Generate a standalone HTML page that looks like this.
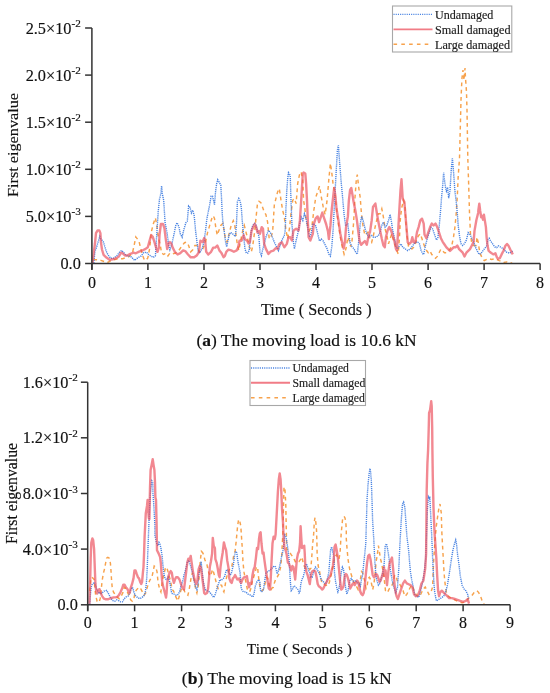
<!DOCTYPE html><html><head><meta charset="utf-8"><title>First eigenvalue</title><style>html,body{margin:0;padding:0;background:#fff;}svg{display:block;}</style></head><body>
<svg width="550" height="693" viewBox="0 0 550 693">
<rect width="550" height="693" fill="#fff"/>
<polyline fill="none" stroke="#f7a24c" stroke-width="1.45" stroke-dasharray="3.8 3.4" points="93.3,259.8 96.5,259.8 100.9,260.4 104.2,261.5 107.5,262.5 110.7,260.9 114.0,259.8 118.4,258.7 122.7,258.7 126.0,257.6 129.3,256.5 132.5,252.7 134.2,245.1 135.8,236.9 137.5,239.1 139.1,241.8 140.7,248.4 142.4,254.9 144.5,260.4 146.7,259.3 147.8,258.0 149.8,247.6 151.2,232.4 153.3,224.0 155.4,217.8 156.8,225.4 158.2,236.5 160.2,244.8 161.6,253.1 163.7,254.5 165.8,253.1 167.9,255.9 169.9,253.1 172.7,253.8 175.5,253.1 178.9,250.4 181.7,246.2 184.5,242.7 186.6,242.1 188.6,245.5 190.7,251.8 192.8,249.7 194.9,245.5 197.0,245.5 199.0,251.8 201.8,250.4 202.8,249.0 205.5,242.1 207.6,232.4 209.7,225.4 211.8,218.5 213.2,215.7 214.5,218.5 215.9,228.2 217.3,235.1 218.7,231.0 220.8,225.4 222.9,223.3 224.2,231.0 225.6,240.7 227.0,242.1 229.1,233.7 231.2,225.4 233.3,220.6 234.6,224.0 236.0,235.1 237.4,244.8 238.8,250.4 240.9,239.3 243.0,229.6 244.3,225.4 246.4,233.7 247.8,239.3 249.2,246.2 251.3,251.8 252.7,246.2 254.7,231.0 256.1,217.1 257.5,203.3 258.9,201.2 260.9,202.8 262.5,207.0 264.2,212.0 265.9,214.5 267.6,222.1 269.2,238.8 270.9,237.2 272.6,232.1 274.3,205.3 275.9,198.6 277.6,191.9 279.3,188.5 281.0,200.3 282.7,210.3 284.3,217.0 286.0,230.4 287.7,238.8 289.4,228.8 291.0,213.7 292.7,200.3 294.4,198.6 296.1,203.6 297.7,183.5 299.4,175.1 301.1,171.8 302.8,180.2 303.6,200.3 304.9,208.7 306.1,220.4 307.8,225.4 309.5,230.4 312.0,225.4 313.8,210.7 315.7,197.5 317.6,191.8 319.5,186.1 321.4,197.5 323.2,206.9 325.1,214.5 327.0,201.2 328.9,178.5 330.4,163.4 331.8,172.9 333.1,184.2 334.6,191.8 336.1,205.0 337.4,216.4 338.4,224.0 340.3,237.2 342.2,246.7 344.1,254.2 346.0,248.6 347.9,237.2 349.4,241.0 350.7,246.7 352.0,241.0 353.5,224.0 355.0,197.5 356.4,178.5 357.3,174.7 358.8,188.0 360.2,197.5 361.5,214.5 363.0,225.9 364.9,235.3 366.8,233.4 368.7,231.5 370.0,238.8 371.7,242.2 373.4,235.5 375.1,227.1 376.7,220.4 378.4,213.7 380.1,213.7 381.8,208.7 383.4,217.0 385.1,228.8 386.8,235.5 388.5,243.9 390.1,238.8 391.8,233.8 393.5,240.5 395.2,245.5 396.8,250.6 398.2,253.9 399.4,238.8 400.5,217.0 401.9,207.0 403.5,200.3 404.9,205.3 406.1,225.4 407.2,237.2 408.6,247.2 410.3,247.2 411.9,248.9 413.6,247.2 415.3,243.9 417.0,238.8 418.6,235.5 420.3,233.8 422.0,238.8 423.7,243.9 425.5,249.1 428.2,252.7 430.0,250.9 431.8,254.5 433.6,256.4 435.5,258.2 437.3,256.4 439.1,252.7 440.9,249.1 442.7,250.9 444.5,252.7 446.4,252.7 448.2,250.9 450.0,249.1 451.8,245.5 453.6,236.4 454.9,227.3 456.0,216.4 457.3,196.4 458.2,176.4 459.5,158.0 460.5,120.0 461.0,100.0 461.5,88.0 462.0,78.0 463.0,70.0 464.0,80.0 465.0,68.0 465.5,78.0 466.0,85.0 466.5,92.0 467.0,110.0 467.5,140.0 467.8,158.2 468.7,185.5 469.5,212.7 470.5,234.5 471.8,243.6 473.6,245.5 476.4,245.5 476.8,237.1 478.1,242.0 479.3,249.5 480.5,254.4 482.4,258.2 484.3,260.6 486.7,259.4 489.2,258.8 491.7,259.4 494.2,258.8 496.7,259.4 499.2,260.6 501.6,261.3 504.1,262.5 506.6,261.9 509.1,262.5 512.2,263.1"/>
<polyline fill="none" stroke="#4a84e2" stroke-width="1.4" stroke-dasharray="1.2 0.9" points="93.8,263.1 94.9,251.6 96.5,247.3 98.2,241.8 99.8,236.4 100.9,239.1 102.0,240.2 103.6,242.4 104.7,246.2 106.4,251.6 108.0,254.9 110.7,258.2 113.5,258.2 116.7,256.0 119.5,252.2 121.6,250.5 123.8,252.7 126.0,255.5 128.7,256.0 131.5,257.1 134.7,260.4 138.0,257.6 141.3,256.0 143.5,252.7 146.7,252.2 147.8,253.8 150.5,255.9 153.3,257.3 155.4,255.9 156.8,233.7 158.2,211.6 159.5,199.1 160.9,193.6 161.6,185.9 162.3,193.6 163.7,200.5 164.4,211.6 165.1,222.7 167.2,233.7 168.6,244.8 169.9,249.7 172.0,243.4 174.1,233.7 175.8,225.4 177.1,222.7 178.9,226.8 180.3,233.7 182.1,237.2 183.8,229.6 185.9,222.7 187.3,221.3 188.6,206.0 190.0,207.4 191.4,213.0 192.8,210.2 194.2,215.7 195.6,231.0 197.0,242.1 198.3,251.8 199.7,253.1 201.8,249.0 202.1,249.0 204.2,240.7 205.5,231.0 206.9,218.5 208.3,211.6 209.7,204.6 211.1,196.3 212.5,196.3 213.9,201.9 214.5,204.6 215.5,192.2 216.6,183.9 217.7,179.7 219.4,182.5 220.8,185.2 221.5,197.7 222.2,213.0 222.9,222.7 224.2,231.0 225.6,242.1 226.7,246.9 227.7,242.1 229.1,235.1 230.5,232.4 232.6,233.7 233.9,235.1 235.3,236.5 236.4,225.4 237.4,201.9 238.8,198.4 240.2,201.2 241.3,207.4 242.3,221.3 243.6,235.1 245.0,249.0 246.4,253.1 247.8,253.1 249.2,250.4 249.9,243.4 251.3,231.0 252.7,225.4 254.7,223.3 256.1,225.4 257.5,231.0 258.9,236.5 260.0,252.2 261.4,255.6 262.5,250.6 264.2,243.9 265.9,237.2 268.4,230.4 270.1,232.1 271.8,235.5 274.3,242.2 276.8,247.2 278.5,250.6 280.1,245.5 281.8,240.5 284.3,235.5 285.2,230.4 286.0,207.0 286.8,190.2 287.7,178.5 288.5,172.6 290.2,175.1 291.0,200.3 291.9,223.7 293.2,240.5 294.4,248.9 296.1,240.5 297.7,233.8 299.4,225.4 301.1,217.0 302.8,220.4 304.4,213.7 306.1,218.7 307.8,228.8 309.5,237.2 311.1,233.8 312.8,223.7 313.8,224.0 315.7,225.9 317.6,233.4 319.5,241.0 321.4,239.1 323.2,241.0 325.1,244.8 327.0,248.6 328.9,254.2 330.4,256.1 331.8,246.7 333.1,229.6 334.6,201.2 336.1,172.9 337.4,150.1 338.4,145.4 339.7,163.4 341.2,182.3 342.6,197.5 344.1,214.5 345.6,225.9 346.9,224.0 347.9,224.0 348.8,233.4 350.1,242.9 352.0,246.7 353.9,248.6 355.8,252.4 357.3,254.2 358.8,241.0 360.2,224.0 361.7,216.4 363.6,222.1 365.3,229.6 366.8,233.4 368.7,237.2 370.0,235.5 371.7,235.5 373.4,237.2 375.9,237.2 378.4,235.5 380.1,232.1 381.8,225.4 383.4,222.1 385.1,227.1 386.8,225.4 388.5,220.4 390.1,214.5 391.5,222.1 392.7,230.4 394.3,237.2 396.0,247.2 397.7,248.9 399.4,245.5 401.0,243.9 402.7,247.2 405.2,248.9 407.7,250.6 410.3,248.9 412.8,245.5 415.3,242.2 417.8,242.2 419.5,243.9 421.1,250.6 422.8,253.9 423.6,254.5 425.5,245.5 427.3,238.2 429.1,232.7 430.9,227.3 432.7,229.1 434.5,234.5 436.4,240.0 437.8,238.2 439.1,227.3 440.4,212.7 441.5,198.2 442.7,185.5 443.6,172.7 444.5,180.0 445.5,187.3 446.4,190.9 447.6,187.3 448.7,198.2 450.0,190.9 451.3,169.1 452.4,158.2 453.6,172.7 454.9,190.9 456.0,200.0 457.3,212.7 458.2,225.5 459.6,236.4 460.9,243.6 462.7,245.5 464.5,243.6 466.4,240.0 468.2,232.7 470.0,234.5 471.8,238.2 473.6,241.8 475.5,247.3 477.3,250.9 477.7,252.0 479.3,254.4 481.2,253.2 483.0,250.7 484.9,248.2 486.7,245.8 488.0,239.6 489.2,238.3 490.5,240.8 492.3,243.3 494.8,247.0 496.7,247.6 498.5,245.8 500.4,247.0 502.3,248.2 504.1,249.5 506.0,252.0 507.8,252.6 509.7,253.2 511.6,252.0 512.8,250.7"/>
<polyline fill="none" stroke="#ec4a58" stroke-width="2.4" stroke-linejoin="round" stroke-opacity="0.66" points="92.4,263.1 94.9,244.0 96.0,233.1 97.6,230.4 99.3,230.4 100.4,233.1 100.9,241.8 102.0,249.5 103.6,254.9 106.4,257.6 109.6,259.8 112.9,259.3 116.2,258.2 118.9,256.5 121.1,252.7 122.7,253.3 124.9,255.5 127.1,255.5 130.4,253.8 133.6,252.7 135.8,253.3 139.1,251.6 142.4,250.5 145.6,248.9 147.8,247.3 149.2,242.1 151.2,235.1 152.6,236.5 154.0,240.7 156.1,247.6 157.5,251.8 158.9,247.6 159.5,235.1 160.9,224.0 163.0,224.0 164.4,228.2 165.8,239.3 167.2,249.0 168.6,243.4 169.9,242.1 171.3,243.4 172.7,247.6 174.8,251.8 177.6,254.5 180.3,253.1 183.1,250.4 185.2,251.1 188.0,254.5 190.7,257.3 194.2,257.3 197.0,255.2 199.0,251.8 200.4,240.7 202.5,242.1 204.2,237.9 205.3,242.1 206.2,251.8 208.3,254.5 211.1,251.8 213.2,247.6 215.2,247.6 217.3,245.5 219.4,250.4 221.5,253.1 223.6,257.3 224.9,255.9 226.3,251.8 228.4,249.7 231.2,250.4 233.9,251.8 236.7,250.4 238.1,247.6 239.5,240.7 241.6,240.7 243.6,235.1 245.0,239.3 247.1,240.7 248.5,243.4 249.9,242.1 251.5,231.0 253.3,226.8 254.7,224.0 256.1,226.8 257.5,232.4 258.9,231.0 260.0,233.8 261.7,227.1 263.0,228.8 264.2,243.9 265.9,248.9 268.4,253.9 270.9,251.4 273.4,250.6 275.9,248.0 277.6,248.9 279.3,243.9 281.8,242.2 284.3,247.2 286.8,243.9 288.5,237.2 290.2,237.2 291.9,240.5 293.5,230.4 296.1,228.8 298.6,230.4 299.9,220.4 301.1,202.0 301.9,188.5 302.8,173.5 303.6,172.6 305.3,173.5 306.1,183.5 307.0,200.3 307.8,220.4 308.6,237.2 310.3,240.5 312.8,233.8 313.8,224.0 315.7,218.3 317.6,216.4 319.1,222.1 320.4,218.3 322.3,212.6 324.2,218.3 326.1,224.0 328.0,231.5 328.9,239.1 330.4,225.9 331.8,208.8 333.1,197.5 334.2,188.0 335.6,197.5 336.5,208.8 338.4,220.2 340.3,233.4 342.2,242.9 343.7,248.6 345.0,241.0 346.0,227.7 346.9,222.1 347.9,216.4 348.8,201.2 350.1,189.9 351.3,188.0 352.6,195.6 353.5,201.2 355.4,210.7 356.9,220.2 358.3,231.5 359.6,241.0 361.1,244.8 363.0,242.9 364.9,241.0 366.8,244.8 368.7,235.3 370.0,232.1 371.7,220.4 373.0,207.0 374.2,205.3 375.4,203.6 376.7,212.0 378.4,222.1 380.1,230.4 381.8,238.8 383.4,245.5 384.8,247.2 385.9,237.2 387.6,230.4 389.3,227.1 391.0,230.4 392.7,235.5 394.3,240.5 396.0,248.9 396.8,250.6 398.2,230.4 399.4,208.7 400.5,190.2 401.5,179.3 402.7,198.6 404.4,202.0 405.6,217.0 406.6,228.8 407.7,242.2 409.4,243.9 411.1,242.2 412.3,237.2 413.6,242.2 415.3,242.2 417.0,232.1 418.6,227.1 420.3,220.4 422.0,218.7 423.7,223.7 424.5,234.5 426.4,238.2 428.2,232.7 430.0,227.3 431.8,223.6 433.6,225.5 435.5,223.6 437.3,227.3 439.1,232.7 440.9,238.2 442.7,241.8 444.5,244.5 446.4,247.3 448.2,249.1 450.0,250.9 451.8,249.1 453.6,247.3 455.5,247.3 457.3,245.5 459.1,249.1 460.9,250.9 462.7,252.7 464.5,256.4 466.4,252.7 468.2,250.9 470.0,249.1 471.8,245.5 473.6,241.8 474.5,230.9 476.4,220.0 478.2,212.7 478.4,209.8 479.3,203.6 480.2,211.0 481.2,217.2 482.2,216.0 483.0,219.7 483.9,214.7 484.9,220.9 485.9,227.1 486.7,238.3 487.6,245.8 488.6,250.7 489.9,252.0 491.7,253.2 493.6,254.4 495.4,253.2 496.7,256.9 497.9,258.8 499.8,258.2 501.6,254.4 503.5,250.7 505.4,245.8 507.0,243.9 508.5,245.8 510.3,249.5 511.6,252.0 512.8,254.4"/>
<path d="M91.9 28.0V269.5H91.9V263.5" fill="none" stroke="#333" stroke-width="1.5"/>
<path d="M91.9 263.5H540.1" fill="none" stroke="#333" stroke-width="1.5"/>
<path d="M85.1 28.0H91.9" stroke="#333" stroke-width="1.5"/>
<text x="80.8" y="33.6" text-anchor="end" font-family="Liberation Serif, serif" stroke="#111" stroke-width="0.15" font-size="16.3" fill="#111">2.5×10<tspan font-size="11.2" dy="-6.6">-2</tspan></text>
<path d="M85.1 75.1H91.9" stroke="#333" stroke-width="1.5"/>
<text x="80.8" y="80.7" text-anchor="end" font-family="Liberation Serif, serif" stroke="#111" stroke-width="0.15" font-size="16.3" fill="#111">2.0×10<tspan font-size="11.2" dy="-6.6">-2</tspan></text>
<path d="M85.1 122.2H91.9" stroke="#333" stroke-width="1.5"/>
<text x="80.8" y="127.8" text-anchor="end" font-family="Liberation Serif, serif" stroke="#111" stroke-width="0.15" font-size="16.3" fill="#111">1.5×10<tspan font-size="11.2" dy="-6.6">-2</tspan></text>
<path d="M85.1 169.3H91.9" stroke="#333" stroke-width="1.5"/>
<text x="80.8" y="174.9" text-anchor="end" font-family="Liberation Serif, serif" stroke="#111" stroke-width="0.15" font-size="16.3" fill="#111">1.0×10<tspan font-size="11.2" dy="-6.6">-2</tspan></text>
<path d="M85.1 216.4H91.9" stroke="#333" stroke-width="1.5"/>
<text x="80.8" y="222.0" text-anchor="end" font-family="Liberation Serif, serif" stroke="#111" stroke-width="0.15" font-size="16.3" fill="#111">5.0×10<tspan font-size="11.2" dy="-6.6">-3</tspan></text>
<path d="M85.1 263.5H91.9" stroke="#333" stroke-width="1.5"/>
<text x="80.8" y="269.1" text-anchor="end" font-family="Liberation Serif, serif" stroke="#111" stroke-width="0.15" font-size="16.3" fill="#111">0.0</text>
<path d="M91.9 263.5V270.0" stroke="#333" stroke-width="1.5"/>
<text x="91.9" y="287.8" text-anchor="middle" font-family="Liberation Serif, serif" stroke="#111" stroke-width="0.15" font-size="16.0" fill="#111">0</text>
<path d="M147.9 263.5V270.0" stroke="#333" stroke-width="1.5"/>
<text x="147.9" y="287.8" text-anchor="middle" font-family="Liberation Serif, serif" stroke="#111" stroke-width="0.15" font-size="16.0" fill="#111">1</text>
<path d="M204.0 263.5V270.0" stroke="#333" stroke-width="1.5"/>
<text x="204.0" y="287.8" text-anchor="middle" font-family="Liberation Serif, serif" stroke="#111" stroke-width="0.15" font-size="16.0" fill="#111">2</text>
<path d="M260.0 263.5V270.0" stroke="#333" stroke-width="1.5"/>
<text x="260.0" y="287.8" text-anchor="middle" font-family="Liberation Serif, serif" stroke="#111" stroke-width="0.15" font-size="16.0" fill="#111">3</text>
<path d="M316.0 263.5V270.0" stroke="#333" stroke-width="1.5"/>
<text x="316.0" y="287.8" text-anchor="middle" font-family="Liberation Serif, serif" stroke="#111" stroke-width="0.15" font-size="16.0" fill="#111">4</text>
<path d="M372.0 263.5V270.0" stroke="#333" stroke-width="1.5"/>
<text x="372.0" y="287.8" text-anchor="middle" font-family="Liberation Serif, serif" stroke="#111" stroke-width="0.15" font-size="16.0" fill="#111">5</text>
<path d="M428.1 263.5V270.0" stroke="#333" stroke-width="1.5"/>
<text x="428.1" y="287.8" text-anchor="middle" font-family="Liberation Serif, serif" stroke="#111" stroke-width="0.15" font-size="16.0" fill="#111">6</text>
<path d="M484.1 263.5V270.0" stroke="#333" stroke-width="1.5"/>
<text x="484.1" y="287.8" text-anchor="middle" font-family="Liberation Serif, serif" stroke="#111" stroke-width="0.15" font-size="16.0" fill="#111">7</text>
<path d="M540.1 263.5V270.0" stroke="#333" stroke-width="1.5"/>
<text x="540.1" y="287.8" text-anchor="middle" font-family="Liberation Serif, serif" stroke="#111" stroke-width="0.15" font-size="16.0" fill="#111">8</text>
<text x="261.0" y="315.2" font-family="Liberation Serif, serif" stroke="#111" stroke-width="0.15" font-size="16.0" fill="#111" textLength="110.6" lengthAdjust="spacingAndGlyphs">Time ( Seconds )</text>
<text transform="translate(17.8 145.0) rotate(-90)" x="0" y="0" text-anchor="middle" font-family="Liberation Serif, serif" stroke="#111" stroke-width="0.15" font-size="15.6" fill="#111" textLength="104.0" lengthAdjust="spacingAndGlyphs">First eigenvalue</text>
<rect x="392.5" y="6.0" width="119.3" height="46.0" fill="#fff" stroke="#a8a8a8" stroke-width="1.1"/>
<path d="M393.5 14.4H432.5" stroke="#4a84e2" stroke-width="1.3" stroke-dasharray="1.1 1.1"/>
<text x="435.0" y="18.7" font-family="Liberation Serif, serif" stroke="#111" stroke-width="0.15" font-size="12.5" fill="#222" textLength="58.4" lengthAdjust="spacingAndGlyphs">Undamaged</text>
<path d="M393.5 29.4H432.5" stroke="#ec4a58" stroke-width="1.9" stroke-opacity="0.72"/>
<text x="435.0" y="33.7" font-family="Liberation Serif, serif" stroke="#111" stroke-width="0.15" font-size="12.5" fill="#222" textLength="75.6" lengthAdjust="spacingAndGlyphs">Small damaged</text>
<path d="M393.5 44.2H432.5" stroke="#f7a24c" stroke-width="1.6" stroke-dasharray="3.6 4.2"/>
<text x="435.0" y="48.5" font-family="Liberation Serif, serif" stroke="#111" stroke-width="0.15" font-size="12.5" fill="#222" textLength="75.1" lengthAdjust="spacingAndGlyphs">Large damaged</text>
<text x="196.4" y="345.6" font-family="Liberation Serif, serif" stroke="#111" stroke-width="0.15" font-size="16.0" fill="#111" textLength="220.3" lengthAdjust="spacingAndGlyphs">(<tspan font-weight="bold">a</tspan>) The moving load is 10.6 kN</text>
<polyline fill="none" stroke="#f7a24c" stroke-width="1.45" stroke-dasharray="3.8 3.4" points="89.8,591.1 90.7,580.9 92.0,577.1 93.2,578.4 94.1,579.6 94.9,588.5 95.8,596.1 97.1,601.2 99.0,602.5 100.2,598.7 101.2,589.8 102.1,580.9 103.4,573.3 104.7,568.2 105.6,563.1 106.6,558.1 107.8,557.4 109.1,558.1 110.4,563.1 111.0,570.8 111.6,580.9 112.3,588.5 113.6,592.3 115.5,594.9 117.4,597.4 119.3,598.7 121.2,596.1 123.1,592.3 124.3,587.3 125.6,588.5 126.9,591.1 128.1,593.6 129.4,596.1 130.7,599.9 132.2,601.2 133.9,598.7 135.1,591.9 136.7,589.6 138.4,587.9 140.1,587.4 141.2,589.6 142.4,591.9 144.1,595.2 145.7,593.0 146.9,588.5 148.6,582.9 150.2,579.5 151.9,577.2 153.1,571.6 154.2,566.0 155.6,567.1 157.0,571.6 157.9,580.6 158.7,585.1 159.8,589.6 160.9,591.9 162.1,582.9 163.2,577.2 164.3,572.7 165.4,568.2 166.6,567.1 167.7,570.5 168.8,575.0 169.9,578.4 171.1,584.0 172.2,589.6 173.3,590.7 174.4,593.0 175.6,596.4 176.7,598.6 177.8,600.9 178.9,597.5 180.1,593.0 181.2,589.6 182.3,587.4 184.0,589.6 185.1,593.0 186.7,594.1 187.9,595.2 189.0,590.7 190.1,584.0 191.2,577.2 192.4,572.7 193.5,577.2 194.6,581.7 195.7,589.6 196.9,593.0 198.0,587.4 199.1,577.2 200.2,561.5 201.4,551.4 202.5,552.5 203.6,554.7 204.7,559.2 205.9,562.6 207.0,564.9 208.1,570.5 209.2,573.9 210.4,576.1 211.5,572.7 212.6,569.4 213.7,572.7 214.9,577.2 216.0,581.7 217.1,586.2 218.2,588.5 219.4,587.4 220.5,585.1 221.6,585.1 222.7,589.6 223.9,591.9 225.0,586.2 226.1,579.5 227.2,575.0 228.4,571.6 229.5,569.4 230.6,569.4 231.7,567.1 232.9,560.4 234.0,553.6 235.1,551.4 236.2,541.2 237.6,526.0 238.6,519.4 239.8,521.3 240.8,526.0 241.7,540.0 241.8,541.2 242.4,550.2 242.9,560.4 243.5,567.1 244.1,572.7 245.2,578.4 246.3,584.0 247.4,589.6 248.6,591.3 249.7,591.9 250.8,588.5 251.9,582.9 253.6,577.2 255.3,571.6 256.4,567.1 257.6,567.1 258.3,575.0 259.0,580.6 259.8,586.2 260.9,589.6 262.1,590.7 263.2,589.6 264.3,587.4 265.4,581.7 266.6,577.2 267.7,578.4 268.8,582.9 269.9,588.5 271.1,589.6 272.2,587.9 273.3,587.4 274.4,582.9 275.6,579.5 277.2,577.2 278.9,573.9 280.6,567.1 281.7,557.0 282.3,543.5 282.9,533.4 283.4,510.0 284.0,487.0 285.0,490.0 285.8,505.0 286.2,525.0 286.5,540.0 286.7,549.1 289.0,551.4 291.2,554.7 292.9,557.0 294.1,559.2 295.7,562.6 297.4,562.6 299.1,561.5 300.8,559.2 301.9,557.0 303.1,562.6 304.2,566.0 305.3,568.2 307.0,567.1 308.7,568.2 309.8,569.4 310.9,568.2 312.1,552.5 312.6,544.6 313.7,533.4 314.3,522.0 315.0,517.6 315.8,522.0 316.5,530.0 316.9,541.2 317.1,552.5 317.7,560.4 318.2,566.0 319.4,570.5 320.5,577.2 321.6,581.7 322.7,584.0 323.9,584.0 325.0,585.1 326.1,585.1 327.2,586.2 328.4,585.1 329.5,581.7 330.6,577.2 331.7,572.7 332.9,566.0 334.0,562.6 334.5,558.1 335.6,555.9 336.7,554.7 337.9,558.1 339.0,559.2 340.1,552.5 340.7,541.2 341.2,533.4 342.5,520.0 343.3,517.0 344.1,516.4 345.0,518.0 345.8,522.0 346.3,530.0 346.3,539.0 346.9,546.9 347.4,552.5 348.0,559.2 349.1,566.0 350.2,571.6 351.4,575.0 352.5,578.4 353.6,581.7 354.7,582.9 355.9,585.1 357.0,587.4 358.1,589.6 359.2,586.2 360.4,579.5 361.5,571.6 362.6,572.7 363.7,577.2 364.9,581.7 366.0,588.5 367.1,586.2 368.2,578.4 369.4,577.2 370.5,579.5 371.6,584.0 372.7,589.6 373.9,584.0 375.0,575.0 376.1,561.5 377.2,555.9 378.4,545.7 379.5,552.5 380.6,559.2 381.7,563.7 382.9,570.5 384.0,577.2 385.5,590.7 387.4,592.6 389.2,588.9 391.1,587.0 392.9,583.4 394.4,576.0 395.7,575.1 397.5,581.5 399.4,583.4 401.2,587.0 403.1,590.7 404.9,596.3 406.8,594.4 408.6,590.7 410.5,587.0 412.3,585.2 414.1,590.7 416.0,594.4 417.8,596.3 419.7,596.3 421.5,592.6 423.4,588.9 425.2,587.0 427.1,590.7 428.9,594.4 430.8,592.6 432.6,587.0 433.5,563.0 435.0,540.9 436.3,526.1 437.6,516.9 438.7,509.5 440.0,504.0 441.3,513.2 441.8,531.7 442.8,550.1 443.7,566.7 444.6,579.6 445.5,587.0 446.5,592.6 448.3,596.2 451.1,598.1 454.8,599.9 458.4,601.8 462.1,602.7 465.8,601.8 468.6,598.1 471.4,596.2 474.1,592.6 476.9,590.7 478.7,592.6 480.6,596.2 482.4,601.8 484.3,604.6"/>
<polyline fill="none" stroke="#4a84e2" stroke-width="1.4" stroke-dasharray="1.2 0.9" points="89.8,603.8 90.3,596.1 91.1,587.3 92.0,584.7 93.2,583.5 94.5,582.2 95.4,584.7 96.4,588.5 97.7,591.1 99.0,593.6 100.2,592.3 101.5,593.6 102.8,592.3 104.0,591.1 105.3,591.1 106.6,590.4 107.8,592.3 109.1,594.9 110.4,597.4 111.6,599.3 112.9,600.6 114.8,601.2 116.7,599.9 118.6,600.6 120.5,601.9 122.4,601.9 124.3,598.7 126.2,596.8 128.1,596.1 129.4,593.6 130.7,589.8 132.0,587.3 133.2,588.5 133.4,590.7 135.1,595.2 136.7,596.9 138.4,598.0 140.1,598.6 141.8,597.5 143.5,596.4 145.2,593.0 146.3,584.0 146.9,575.0 147.4,563.7 148.0,546.9 149.4,511.9 150.3,494.0 151.2,485.6 151.8,480.8 152.7,482.0 153.0,494.0 153.6,502.3 154.2,511.9 154.8,523.9 155.0,535.6 155.9,540.1 157.0,544.6 158.1,545.7 159.0,542.4 159.8,543.5 160.9,548.0 162.1,555.9 162.8,563.7 163.5,570.5 164.3,576.1 165.1,578.4 166.2,579.5 167.3,579.5 168.2,577.2 169.4,580.6 170.5,586.2 171.6,593.0 172.7,594.1 173.9,594.1 175.0,594.7 176.1,595.2 177.2,595.2 178.4,594.1 179.5,591.9 180.6,587.4 181.7,584.0 182.9,580.6 184.0,575.0 185.1,571.6 186.2,567.1 187.6,561.5 188.8,560.4 189.9,563.7 191.2,568.2 192.4,572.7 193.5,578.4 194.6,582.9 195.7,587.4 196.9,589.6 198.0,584.0 199.1,572.7 200.2,567.1 201.1,561.5 202.3,572.7 203.1,580.6 204.2,586.2 205.3,589.6 207.0,590.7 208.7,591.3 210.4,593.0 212.1,595.2 213.7,597.5 214.9,595.2 216.0,591.9 217.7,586.2 218.8,582.9 219.9,579.5 221.1,580.6 222.2,579.5 223.3,578.4 224.4,577.2 225.6,572.7 226.7,569.4 227.8,570.5 228.9,572.7 230.1,575.0 231.2,573.9 232.3,569.4 233.4,564.9 234.5,555.9 235.6,551.4 236.7,552.5 237.9,561.5 239.0,567.1 240.1,572.7 240.7,581.7 241.2,588.5 242.4,590.7 243.5,591.9 244.6,591.9 245.7,591.9 246.9,593.0 248.0,594.1 249.7,594.7 251.4,595.8 253.1,596.9 254.2,593.0 255.3,586.2 257.0,581.7 258.7,579.5 259.8,581.7 260.6,590.7 261.5,591.9 262.8,590.7 263.7,588.5 264.9,579.5 266.0,572.7 267.7,571.6 269.4,570.5 271.1,569.4 272.7,567.1 274.4,566.0 275.6,567.1 277.2,573.9 278.4,570.5 279.5,567.1 280.6,561.5 281.7,555.9 282.9,551.4 284.0,543.5 284.5,534.5 285.6,535.6 286.7,541.2 287.9,549.1 289.0,558.1 289.6,569.4 290.1,577.2 290.7,586.2 291.2,590.7 292.4,589.6 293.5,586.2 294.6,586.2 295.7,587.4 296.9,588.5 298.0,589.6 299.1,593.0 300.0,591.9 300.8,584.0 301.9,579.5 303.1,577.2 304.2,572.7 305.3,566.0 306.4,563.7 307.6,567.1 308.7,570.5 309.8,572.7 310.9,577.2 312.1,577.2 313.2,573.9 314.3,570.5 315.4,567.1 316.6,568.2 317.7,570.5 318.8,572.7 319.9,575.0 321.1,579.5 322.2,580.6 323.3,581.7 324.4,582.9 325.6,584.0 326.7,581.7 327.8,577.2 328.9,571.6 329.5,563.7 330.1,555.9 330.6,550.2 331.7,546.9 332.9,552.5 334.0,557.0 334.5,572.7 335.6,581.7 336.7,587.4 337.9,591.9 339.0,588.5 340.1,581.7 341.2,572.7 342.4,567.1 343.5,569.4 344.6,577.2 345.7,588.5 346.9,594.1 348.0,590.7 349.1,584.0 350.2,579.5 351.4,578.4 352.5,580.6 353.6,581.7 354.7,581.2 355.9,580.6 357.0,582.9 358.1,582.9 359.2,584.0 360.4,586.2 361.5,579.5 362.6,575.0 363.7,563.7 364.9,552.5 365.8,543.5 366.2,528.0 366.6,515.0 367.0,500.0 368.0,485.0 369.0,475.0 369.9,468.5 370.5,471.0 371.3,480.0 372.0,500.0 372.6,520.0 373.2,530.0 373.9,541.2 374.4,552.5 375.0,563.7 375.6,571.6 376.1,577.2 377.2,581.7 378.4,585.1 379.5,584.0 380.6,580.6 381.7,577.2 382.9,572.7 384.0,566.0 385.2,546.4 386.5,543.7 387.8,550.1 388.9,557.5 390.2,568.6 392.0,579.7 393.8,587.0 395.7,592.6 397.5,587.0 398.8,568.6 399.9,544.6 401.2,520.6 402.5,504.0 403.6,502.1 404.9,507.7 405.8,520.6 406.8,535.4 407.7,542.8 408.6,550.1 409.5,561.2 410.5,572.3 411.7,579.7 413.2,587.0 414.7,594.4 416.5,596.3 418.8,597.2 420.6,590.7 422.4,583.4 424.3,572.3 425.8,557.5 426.5,535.4 427.4,509.5 428.4,496.6 429.5,498.5 429.8,496.6 430.8,516.9 431.7,535.4 432.6,557.5 433.5,576.0 434.5,590.7 436.3,600.9 438.1,599.9 440.9,598.1 443.7,596.2 445.5,592.6 447.4,585.2 449.2,574.1 451.1,561.2 452.9,550.1 454.8,542.7 455.7,540.0 456.6,544.6 457.5,553.8 459.0,564.9 460.3,576.0 462.1,585.2 464.0,588.9 465.8,590.7 467.7,594.4 468.6,599.9"/>
<polyline fill="none" stroke="#ec4a58" stroke-width="2.4" stroke-linejoin="round" stroke-opacity="0.66" points="89.4,603.8 90.1,583.5 90.7,558.1 91.3,542.8 92.4,538.4 93.2,540.3 94.1,549.2 94.9,570.8 95.4,583.5 96.2,591.1 97.1,593.6 98.3,589.8 99.6,589.2 100.9,593.6 102.1,596.1 104.0,598.7 105.9,599.3 107.8,599.3 109.7,598.7 111.6,598.0 113.6,597.4 115.5,597.4 117.4,596.8 119.0,594.9 120.5,592.3 122.1,588.5 123.3,584.7 124.6,584.7 125.9,587.3 127.1,588.5 128.4,591.1 129.7,593.0 130.9,587.3 132.2,583.5 133.5,578.4 134.5,570.5 135.6,570.5 136.7,573.9 137.9,577.2 139.0,578.4 140.1,581.7 141.2,584.0 142.1,581.7 142.9,572.7 143.5,567.1 144.1,552.5 144.6,536.7 145.8,513.1 147.0,505.9 147.6,499.9 148.2,509.5 148.8,517.9 149.4,519.1 150.0,488.0 150.6,470.0 151.8,464.0 152.7,459.2 153.6,465.2 154.4,470.0 155.0,482.0 155.4,497.5 156.0,499.9 156.3,511.9 156.6,523.9 157.0,550.2 158.7,553.6 160.1,557.0 160.9,563.7 161.5,572.7 162.1,580.6 162.8,585.1 163.7,588.5 164.9,593.0 166.0,597.5 166.6,593.0 167.1,584.0 168.2,577.2 169.6,572.7 170.7,571.1 171.8,572.7 172.7,578.4 173.9,582.9 175.0,579.5 176.1,577.2 177.8,577.2 179.5,579.5 180.6,582.9 181.7,586.2 182.9,588.5 184.0,589.6 185.1,580.6 186.2,571.6 187.3,562.6 188.4,558.7 189.6,560.4 190.7,555.9 191.8,563.7 192.9,571.6 194.1,577.2 195.2,581.7 196.3,584.0 197.4,580.6 198.6,569.4 199.7,566.0 200.8,567.1 201.9,575.0 203.1,584.0 204.2,593.0 205.3,594.1 207.0,593.0 208.1,588.5 209.0,578.4 209.8,567.1 210.9,561.5 212.1,553.6 212.8,537.9 213.7,545.7 214.9,548.0 215.4,559.2 216.6,562.6 217.7,568.2 218.8,575.0 219.6,577.2 220.5,567.1 221.6,559.2 222.7,552.5 223.9,542.4 225.0,546.9 226.1,550.2 227.2,560.4 228.4,567.1 229.3,578.4 230.6,581.7 231.7,582.9 232.9,578.4 234.0,577.2 235.1,575.0 236.2,577.2 237.3,579.5 239.0,578.4 240.1,581.7 241.2,582.9 242.4,579.5 244.1,577.2 245.7,577.2 246.9,576.1 248.0,582.9 249.1,587.4 250.2,582.9 251.4,584.0 252.5,575.0 253.6,569.4 254.7,567.1 255.9,558.1 257.0,548.0 258.1,549.1 259.0,539.0 259.8,533.4 260.6,532.2 261.5,543.5 262.6,553.6 263.5,552.5 264.3,559.2 265.4,567.1 266.6,575.0 267.7,581.7 268.8,588.5 269.9,589.6 270.7,579.5 271.6,560.4 272.5,543.5 273.6,536.7 274.8,539.0 275.6,534.5 276.6,516.3 277.9,491.8 278.8,479.5 279.7,473.4 280.6,479.5 281.3,491.8 282.1,510.2 283.0,522.5 283.7,540.0 284.5,548.0 285.6,550.2 286.7,554.7 287.9,562.6 289.0,563.7 290.1,567.1 291.2,570.5 292.4,566.0 293.5,567.1 294.6,575.0 295.2,579.5 296.3,566.0 296.9,559.2 298.0,553.6 299.1,551.4 300.0,543.5 300.5,530.0 300.6,526.2 301.1,534.5 301.9,548.0 303.1,546.9 304.2,545.7 304.7,552.5 305.3,566.0 306.4,571.6 307.6,575.0 308.7,579.5 309.8,584.0 310.9,575.0 312.1,571.6 313.7,570.5 315.4,571.6 316.6,577.2 317.7,584.0 318.8,586.2 320.5,587.4 322.2,589.6 323.3,588.5 324.4,586.2 325.6,584.0 326.7,581.7 327.8,579.5 329.5,577.2 330.6,575.0 331.7,570.5 332.9,566.0 334.0,555.9 334.5,546.9 335.6,544.6 336.7,550.2 337.9,558.1 339.0,569.4 340.1,580.6 341.2,589.6 342.4,588.5 343.5,586.2 344.6,577.2 345.7,573.9 346.9,575.0 348.0,578.4 349.1,582.9 350.2,588.5 351.4,586.2 352.5,584.0 353.6,582.9 354.7,585.1 355.9,582.9 357.0,580.6 358.1,581.7 359.2,586.2 360.4,591.9 361.5,594.1 362.6,595.2 363.7,593.0 364.9,584.0 366.0,572.7 367.1,562.6 368.2,555.9 369.4,554.7 370.5,559.2 371.6,567.1 372.7,575.0 373.9,577.2 375.0,576.1 376.1,573.9 377.2,575.0 378.4,578.4 379.5,581.7 380.6,580.6 381.7,577.2 382.9,572.7 384.0,567.1 384.1,576.0 385.5,570.4 387.0,585.2 388.3,572.3 389.6,563.1 391.1,559.4 392.0,557.5 392.9,566.7 393.8,576.0 394.8,587.0 395.7,592.6 396.6,596.3 397.9,599.0 399.4,594.4 401.2,588.9 403.1,583.4 404.9,580.6 406.8,583.4 408.6,584.3 410.5,585.2 412.3,587.0 414.1,594.4 416.0,596.3 417.8,595.4 419.7,590.7 421.5,583.4 423.4,580.6 425.2,568.6 426.1,553.8 426.7,490.0 427.4,463.6 428.1,450.0 428.7,429.3 429.1,412.8 430.1,410.0 431.2,401.2 431.7,406.0 432.2,429.3 432.4,450.0 432.8,477.3 433.5,507.7 434.5,531.7 435.4,544.6 436.3,557.5 437.2,576.0 438.1,590.7 439.1,596.2 440.0,592.6 441.8,590.7 443.7,592.6 445.5,594.4 447.4,596.2 449.2,598.1 452.0,598.1 454.8,599.0 457.5,599.9 460.3,600.9 463.1,601.8 465.8,600.9 467.7,599.0 469.0,603.6"/>
<path d="M87.7 382.2V610.8H87.7V604.8" fill="none" stroke="#333" stroke-width="1.5"/>
<path d="M87.7 604.8H510.1" fill="none" stroke="#333" stroke-width="1.5"/>
<path d="M80.9 382.2H87.7" stroke="#333" stroke-width="1.5"/>
<text x="77.8" y="387.8" text-anchor="end" font-family="Liberation Serif, serif" stroke="#111" stroke-width="0.15" font-size="16.3" fill="#111">1.6×10<tspan font-size="11.2" dy="-6.6">-2</tspan></text>
<path d="M80.9 437.8H87.7" stroke="#333" stroke-width="1.5"/>
<text x="77.8" y="443.4" text-anchor="end" font-family="Liberation Serif, serif" stroke="#111" stroke-width="0.15" font-size="16.3" fill="#111">1.2×10<tspan font-size="11.2" dy="-6.6">-2</tspan></text>
<path d="M80.9 493.5H87.7" stroke="#333" stroke-width="1.5"/>
<text x="77.8" y="499.1" text-anchor="end" font-family="Liberation Serif, serif" stroke="#111" stroke-width="0.15" font-size="16.3" fill="#111">8.0×10<tspan font-size="11.2" dy="-6.6">-3</tspan></text>
<path d="M80.9 549.1H87.7" stroke="#333" stroke-width="1.5"/>
<text x="77.8" y="554.8" text-anchor="end" font-family="Liberation Serif, serif" stroke="#111" stroke-width="0.15" font-size="16.3" fill="#111">4.0×10<tspan font-size="11.2" dy="-6.6">-3</tspan></text>
<path d="M80.9 604.8H87.7" stroke="#333" stroke-width="1.5"/>
<text x="77.8" y="610.4" text-anchor="end" font-family="Liberation Serif, serif" stroke="#111" stroke-width="0.15" font-size="16.3" fill="#111">0.0</text>
<path d="M87.7 604.8V611.3" stroke="#333" stroke-width="1.5"/>
<text x="87.7" y="628.3" text-anchor="middle" font-family="Liberation Serif, serif" stroke="#111" stroke-width="0.15" font-size="16.0" fill="#111">0</text>
<path d="M134.6 604.8V611.3" stroke="#333" stroke-width="1.5"/>
<text x="134.6" y="628.3" text-anchor="middle" font-family="Liberation Serif, serif" stroke="#111" stroke-width="0.15" font-size="16.0" fill="#111">1</text>
<path d="M181.6 604.8V611.3" stroke="#333" stroke-width="1.5"/>
<text x="181.6" y="628.3" text-anchor="middle" font-family="Liberation Serif, serif" stroke="#111" stroke-width="0.15" font-size="16.0" fill="#111">2</text>
<path d="M228.5 604.8V611.3" stroke="#333" stroke-width="1.5"/>
<text x="228.5" y="628.3" text-anchor="middle" font-family="Liberation Serif, serif" stroke="#111" stroke-width="0.15" font-size="16.0" fill="#111">3</text>
<path d="M275.4 604.8V611.3" stroke="#333" stroke-width="1.5"/>
<text x="275.4" y="628.3" text-anchor="middle" font-family="Liberation Serif, serif" stroke="#111" stroke-width="0.15" font-size="16.0" fill="#111">4</text>
<path d="M322.4 604.8V611.3" stroke="#333" stroke-width="1.5"/>
<text x="322.4" y="628.3" text-anchor="middle" font-family="Liberation Serif, serif" stroke="#111" stroke-width="0.15" font-size="16.0" fill="#111">5</text>
<path d="M369.3 604.8V611.3" stroke="#333" stroke-width="1.5"/>
<text x="369.3" y="628.3" text-anchor="middle" font-family="Liberation Serif, serif" stroke="#111" stroke-width="0.15" font-size="16.0" fill="#111">6</text>
<path d="M416.2 604.8V611.3" stroke="#333" stroke-width="1.5"/>
<text x="416.2" y="628.3" text-anchor="middle" font-family="Liberation Serif, serif" stroke="#111" stroke-width="0.15" font-size="16.0" fill="#111">7</text>
<path d="M463.1 604.8V611.3" stroke="#333" stroke-width="1.5"/>
<text x="463.1" y="628.3" text-anchor="middle" font-family="Liberation Serif, serif" stroke="#111" stroke-width="0.15" font-size="16.0" fill="#111">8</text>
<path d="M510.1 604.8V611.3" stroke="#333" stroke-width="1.5"/>
<text x="510.1" y="628.3" text-anchor="middle" font-family="Liberation Serif, serif" stroke="#111" stroke-width="0.15" font-size="16.0" fill="#111">9</text>
<text x="246.8" y="654.1" font-family="Liberation Serif, serif" stroke="#111" stroke-width="0.15" font-size="15.4" fill="#111" textLength="105.2" lengthAdjust="spacingAndGlyphs">Time ( Seconds )</text>
<text transform="translate(17.0 493.5) rotate(-90)" x="0" y="0" text-anchor="middle" font-family="Liberation Serif, serif" stroke="#111" stroke-width="0.15" font-size="16.0" fill="#111" textLength="101.0" lengthAdjust="spacingAndGlyphs">First eigenvalue</text>
<rect x="250.0" y="360.5" width="115.5" height="45.0" fill="#fff" stroke="#a8a8a8" stroke-width="1.1"/>
<path d="M251.0 368.0H290.0" stroke="#4a84e2" stroke-width="1.3" stroke-dasharray="1.1 1.1"/>
<text x="292.5" y="372.3" font-family="Liberation Serif, serif" stroke="#111" stroke-width="0.15" font-size="12.0" fill="#222" textLength="56.4" lengthAdjust="spacingAndGlyphs">Undamaged</text>
<path d="M251.0 382.8H290.0" stroke="#ec4a58" stroke-width="1.9" stroke-opacity="0.72"/>
<text x="292.5" y="387.1" font-family="Liberation Serif, serif" stroke="#111" stroke-width="0.15" font-size="12.0" fill="#222" textLength="72.8" lengthAdjust="spacingAndGlyphs">Small damaged</text>
<path d="M251.0 397.8H290.0" stroke="#f7a24c" stroke-width="1.6" stroke-dasharray="3.6 4.2"/>
<text x="292.5" y="402.1" font-family="Liberation Serif, serif" stroke="#111" stroke-width="0.15" font-size="12.0" fill="#222" textLength="72.4" lengthAdjust="spacingAndGlyphs">Large damaged</text>
<text x="181.8" y="683.8" font-family="Liberation Serif, serif" stroke="#111" stroke-width="0.15" font-size="16.0" fill="#111" textLength="209.8" lengthAdjust="spacingAndGlyphs">(<tspan font-weight="bold">b</tspan>) The moving load is 15 kN</text>
</svg></body></html>
